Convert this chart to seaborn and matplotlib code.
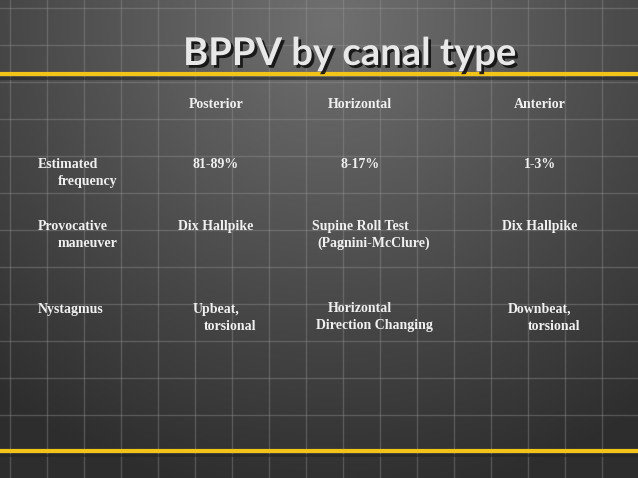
import numpy as np
import matplotlib
matplotlib.use("Agg")
import matplotlib.pyplot as plt
import matplotlib.patheffects as pe
import seaborn as sns

sns.set_style("white")

title = "BPPV by canal type"
columns = ["Posterior", "Horizontal", "Anterior"]
row_labels = [("Estimated", "frequency"), ("Provocative", "maneuver"), ("Nystagmus", "")]
cells = [
    [("81-89%", ""), ("8-17%", ""), ("1-3%", "")],
    [("Dix Hallpike", ""), ("Supine Roll Test", "(Pagnini-McClure)"), ("Dix Hallpike", "")],
    [("Upbeat,", "torsional"), ("Horizontal", "Direction Changing"), ("Downbeat,", "torsional")],
]

W, H = 638, 478
fig = plt.figure(figsize=(6.38, 4.78), dpi=100)
ax = fig.add_axes([0, 0, 1, 1])
ax.set_xlim(0, W); ax.set_ylim(H, 0); ax.axis("off")

yy, xx = np.mgrid[0:H, 0:W]
d = np.sqrt(((xx - 330) / 520.0) ** 2 + ((yy - 20) / 480.0) ** 2)
val = 0.44 - 0.26 * np.clip(d, 0, 1)
ax.imshow(np.dstack([val, val, val]), extent=(0, W, H, 0), aspect="auto", zorder=0)

for x in np.arange(10, W, 37):
    ax.plot([x, x], [0, H], color="#9a9a9a", alpha=0.35, lw=1, zorder=1)
for y in np.arange(8, H, 37):
    ax.plot([0, W], [y, y], color="#9a9a9a", alpha=0.35, lw=1, zorder=1)

ax.plot([0, W], [74, 74], color="#f2c417", lw=3, zorder=2)
ax.plot([0, W], [78, 78], color="#222222", lw=2, alpha=0.6, zorder=2)
ax.plot([0, W], [451, 451], color="#f2c417", lw=3, zorder=2)
ax.plot([0, W], [455, 455], color="#222222", lw=2, alpha=0.6, zorder=2)

ax.text(350, 54, title, ha="center", va="center", fontsize=27.5, fontweight="bold",
        family="Lato", color="#e8e8e8", zorder=4,
        path_effects=[pe.withSimplePatchShadow(offset=(2, -2), shadow_rgbFace="#111111", alpha=0.9)])

tk = dict(family="Liberation Serif", fontweight="bold", fontsize=10, color="#f0f0f0", zorder=4)
col_x = [216, 360, 540]
for cx, c in zip(col_x, columns):
    ax.text(cx, 104, c, ha="center", va="center", **tk)

row_y = [164, 226, 309]
for ry, (l1, l2), rc in zip(row_y, row_labels, cells):
    ax.text(38, ry, l1, ha="left", va="center", **tk)
    if l2:
        ax.text(58, ry + 17, l2, ha="left", va="center", **tk)
    for cx, (c1, c2) in zip(col_x, rc):
        ax.text(cx, ry, c1, ha="center", va="center", **tk)
        if c2:
            if c1.endswith(","):
                ax.text(cx + 40, ry + 17, c2, ha="right", va="center", **tk)
            else:
                ax.text(cx + 14, ry + 17, c2, ha="center", va="center", **tk)

fig.savefig("out.png", dpi=100)
